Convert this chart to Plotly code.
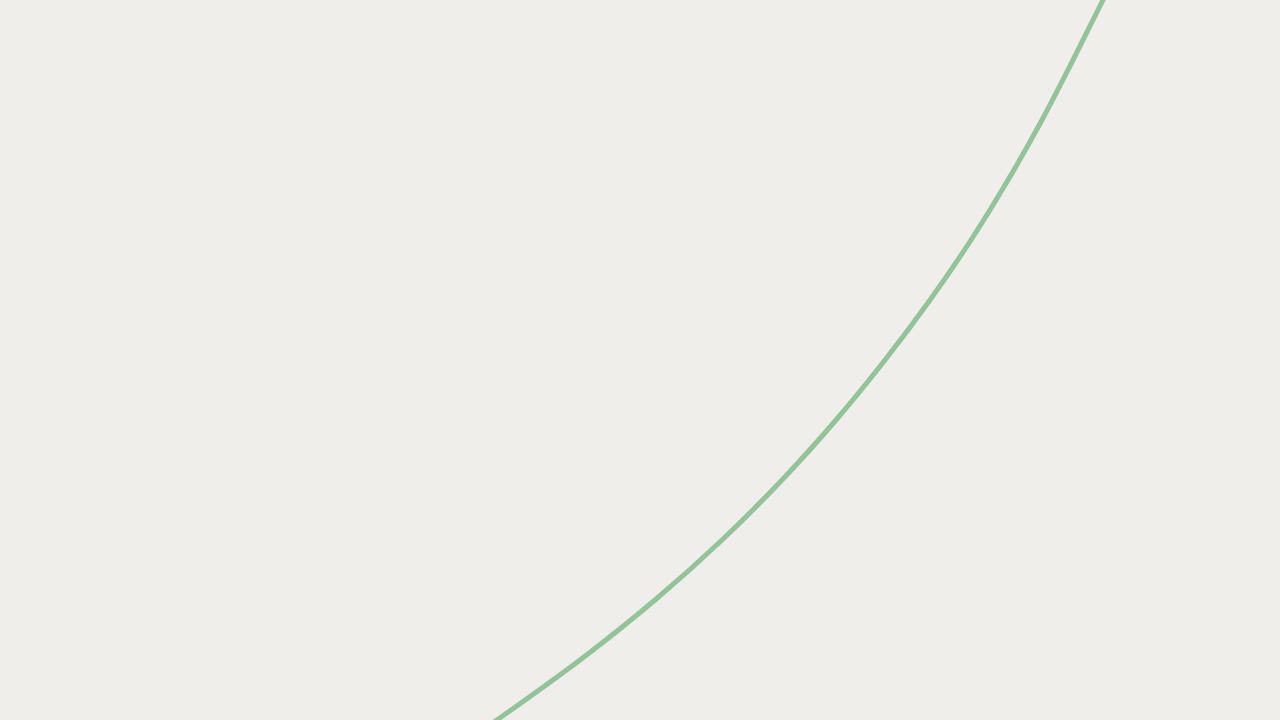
import plotly.graph_objects as go

# Curve points (x across, y up from the bottom edge);
# the end points run a little past the frame so the line meets the edges
curve_x = [410, 497, 580, 655, 722, 782, 836, 885, 930, 971, 1008, 1042, 1073, 1103, 1132]
curve_y = [-60, 0, 60, 120, 180, 240, 300, 360, 420, 480, 540, 600, 660, 720, 780]

fig = go.Figure()
fig.add_trace(
    go.Scatter(
        x=curve_x,
        y=curve_y,
        mode='lines',
        line=dict(color='#93c398', width=5, shape='spline', smoothing=1.0),
        hoverinfo='skip',
        showlegend=False,
    )
)

fig.update_layout(
    width=1280,
    height=720,
    margin=dict(l=0, r=0, t=0, b=0),
    paper_bgcolor='#efeeea',
    plot_bgcolor='#efeeea',
    xaxis=dict(range=[0, 1280], visible=False, fixedrange=True),
    yaxis=dict(range=[0, 720], visible=False, fixedrange=True),
)

# the page body has a default 8px margin - drop it so the figure fills the window
fig.write_html(
    "out.html",
    config={'displayModeBar': False},
    post_script="document.body.style.margin='0'; document.body.style.background='#efeeea';",
)
